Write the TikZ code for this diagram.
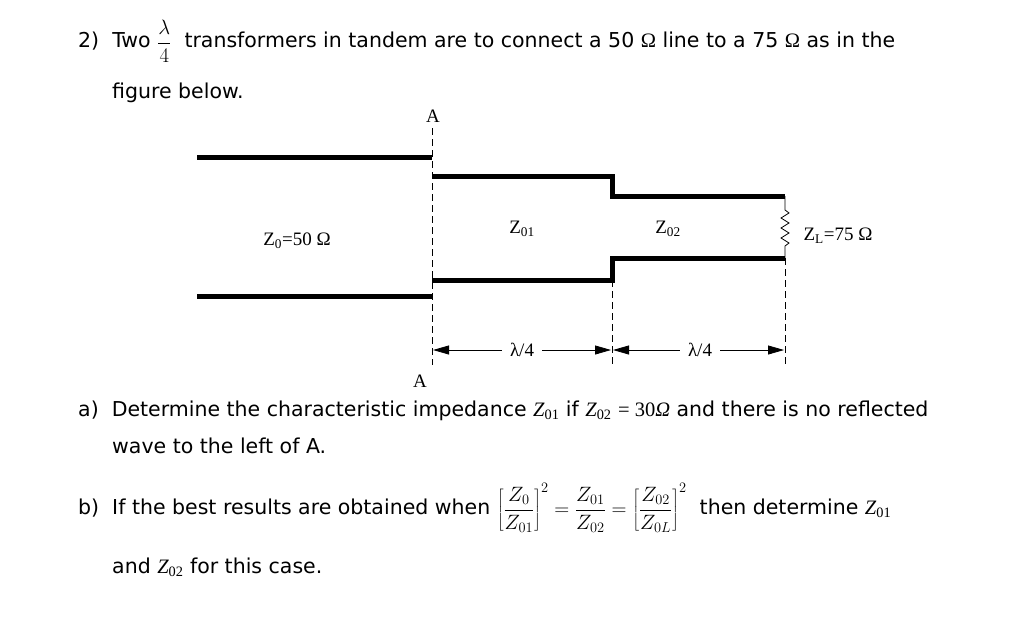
\documentclass[tikz,border=0pt]{standalone}
\usepackage{fontspec}
\setmainfont{DejaVu Sans}
\newfontfamily\tms{Liberation Serif}
\usetikzlibrary{arrows.meta}
\begin{document}
\begin{tikzpicture}[x=1pt,y=-1pt,
  line/.style={line width=5pt},
  dim/.style={dashed,line width=0.8pt,dash pattern=on 7pt off 4pt},
  txt/.style={anchor=base west,inner sep=0pt,font=\fontsize{20.5}{24}\selectfont},
  fig/.style={inner sep=0pt,font=\tms\fontsize{19}{22}\selectfont},
  arr/.style={line width=0.8pt,-{Triangle[length=16pt,width=9pt]}}]
\useasboundingbox (0,0) rectangle (1032,616);
% lines
\draw[line] (197,157) -- (432,157);
\draw[line] (197,296) -- (432,296);
\draw[line] (432,176) -- (612,176) -- (612,196) -- (785,196);
\draw[line] (432,280) -- (612,280) -- (612,258) -- (785,258);
\coordinate (r1) at (785,196); \coordinate (r2) at (785,258);
\draw[line width=0.8pt] (r1) -- (785,210) -- (789,213) -- (781,218) -- (789,223) -- (781,228) -- (789,233) -- (781,238) -- (789,243) -- (785,246) -- (r2);
\draw[dim] (432,128) -- (432,365);
\draw[dim] (612,258) -- (612,365);
\draw[dim] (785,258) -- (785,365);
% labels
\node[fig] (At) at (433,116) {A};
\node[fig] (Ab) at (420,381) {A};
\node[fig] (z0) at (297,241) {Z\textsubscript{0}=50 Ω};
\node[fig] (z01) at (522,229) {Z\textsubscript{01}};
\node[fig] (z02) at (668,229) {Z\textsubscript{02}};
\node[fig] (zl) at (838,236) {Z\textsubscript{L}=75 Ω};
\node[fig] (l1) at (522,350) {λ/4};
\node[fig] (l2) at (700,350) {λ/4};
\draw[arr] (l1.west) ++(-8,0) -- (433,350);
\draw[arr] (l1.east) ++(8,0) -- (611,350);
\draw[arr] (l2.west) ++(-8,0) -- (613,350);
\draw[arr] (l2.east) ++(8,0) -- (784,350);
% text
\node[txt] (t1) at (78,47) {2)\ \ Two \raisebox{-0.1ex}{$\displaystyle\frac{\lambda}{4}$}\ \ transformers in tandem are to connect a 50 {\tms Ω} line to a 75 {\tms Ω} as in the};
\node[txt] (t2) at (112,98) {figure below.};
\node[txt] (t3) at (78,416) {a)\ \ Determine the characteristic impedance {\tms\itshape Z}\textsubscript{\tms 01} if {\tms\itshape Z}\textsubscript{\tms 02} {\tms = 30\itshape Ω} and there is no reflected};
\node[txt] (t4) at (112,453) {wave to the left of A.};
\node[txt] (t5) at (78,514) {b)\ \ If the best results are obtained when \raisebox{-0.1ex}{$\displaystyle\left[\frac{Z_0}{Z_{01}}\right]^2=\frac{Z_{01}}{Z_{02}}=\left[\frac{Z_{02}}{Z_{0L}}\right]^2$}\ \ then determine {\tms\itshape Z}\textsubscript{\tms 01}};
\node[txt] (t6) at (112,573) {and {\tms\itshape Z}\textsubscript{\tms 02} for this case.};
\end{tikzpicture}
\end{document}
